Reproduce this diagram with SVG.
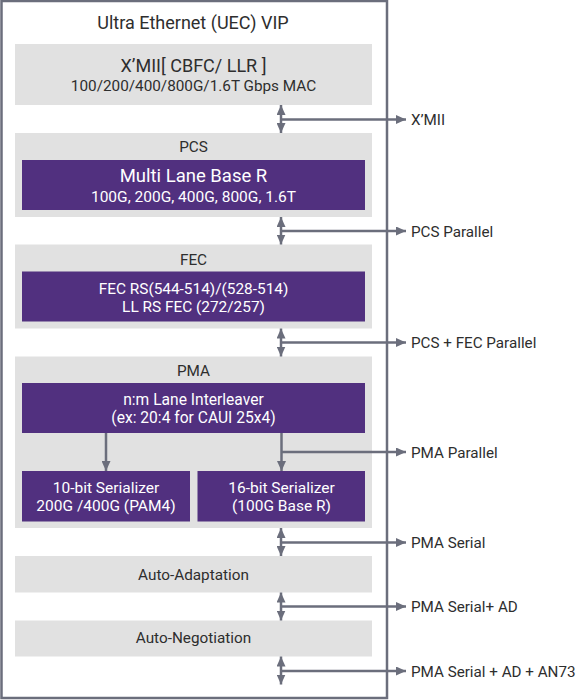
<svg xmlns="http://www.w3.org/2000/svg" width="578" height="700" viewBox="0 0 578 700">
<style>
  .frame{fill:#ffffff;stroke:#6b6e7c;stroke-width:2.5}
  .gray{fill:#e1e1e1}
  .purple{fill:#51307f}
  .t{font-family:Roboto,"Liberation Sans",sans-serif;fill:#2e2e2e;text-anchor:middle}
  .w{font-family:Roboto,"Liberation Sans",sans-serif;fill:#ffffff;text-anchor:middle}
  .lbl{font-family:Roboto,"Liberation Sans",sans-serif;fill:#2e2e2e;font-size:15.2px}
  .ln{stroke:#6b6e7c;stroke-width:2.5;fill:none}
</style>
<defs>
  <marker id="ah" viewBox="0 0 10 9" refX="10" refY="4.5" markerWidth="10" markerHeight="9" markerUnits="userSpaceOnUse" orient="auto-start-reverse">
    <path d="M0,0 L10,4.5 L0,9 z" fill="#6b6e7c"/>
  </marker>
</defs>
<rect width="578" height="700" fill="#ffffff"/>
<g id="frame">
  <rect class="frame" x="1.5" y="1" width="385.5" height="697"/>
  <text class="t" x="193" y="29" font-size="18">Ultra Ethernet (UEC) VIP</text>
</g>
<g id="xmii">
  <rect class="gray" x="15" y="44" width="357" height="61"/>
  <text class="t" x="193.5" y="72" font-size="18">X’MII[ CBFC/ LLR ]</text>
  <text class="t" x="193.5" y="91" font-size="15.3">100/200/400/800G/1.6T Gbps MAC</text>
</g>
<g id="pcs">
  <rect class="gray" x="15" y="133" width="357" height="84"/>
  <text class="t" x="193.5" y="152" font-size="15.3">PCS</text>
  <rect class="purple" x="22" y="160" width="343" height="50"/>
  <text class="w" x="193.5" y="182" font-size="18.5">Multi Lane Base R</text>
  <text class="w" x="193.5" y="201.5" font-size="15.5">100G, 200G, 400G, 800G, 1.6T</text>
</g>
<g id="fec">
  <rect class="gray" x="15" y="244.5" width="357" height="84"/>
  <text class="t" x="193.5" y="264.5" font-size="15.3">FEC</text>
  <rect class="purple" x="22" y="271.5" width="343" height="50"/>
  <text class="w" x="193.5" y="293.5" font-size="15.4">FEC RS(544-514)/(528-514)</text>
  <text class="w" x="193.5" y="311.5" font-size="15.4">LL RS FEC (272/257)</text>
</g>
<g id="pma">
  <rect class="gray" x="15" y="356.5" width="357" height="171.5"/>
  <text class="t" x="193.5" y="376" font-size="15.3">PMA</text>
</g>
<g id="interleaver">
  <rect class="purple" x="22" y="383" width="343" height="50"/>
  <text class="w" x="193.5" y="405" font-size="15.6">n:m Lane Interleaver</text>
  <text class="w" x="193.5" y="423" font-size="15.6">(ex: 20:4 for CAUI 25x4)</text>
</g>
<g id="ser10">
  <rect class="purple" x="22" y="471" width="168" height="50.5"/>
  <text class="w" x="106" y="493" font-size="15.5">10-bit Serializer</text>
  <text class="w" x="106" y="511" font-size="15.5">200G /400G (PAM4)</text>
</g>
<g id="ser16">
  <rect class="purple" x="197.5" y="471" width="167.5" height="50.5"/>
  <text class="w" x="281.5" y="493" font-size="15.5">16-bit Serializer</text>
  <text class="w" x="281.5" y="511" font-size="15.5">(100G Base R)</text>
</g>
<g id="autoadapt">
  <rect class="gray" x="15" y="556" width="357" height="36.5"/>
  <text class="t" x="193.5" y="579.5" font-size="15.3">Auto-Adaptation</text>
</g>
<g id="autoneg">
  <rect class="gray" x="15" y="620.5" width="357" height="36"/>
  <text class="t" x="193.5" y="643" font-size="15.3">Auto-Negotiation</text>
</g>
<g id="connectors">
  <line class="ln" x1="281" y1="105" x2="281" y2="133" marker-start="url(#ah)" marker-end="url(#ah)"/>
  <line class="ln" x1="281" y1="119.5" x2="406" y2="119.5" marker-end="url(#ah)"/>
  <line class="ln" x1="281" y1="217" x2="281" y2="244.5" marker-start="url(#ah)" marker-end="url(#ah)"/>
  <line class="ln" x1="281" y1="231" x2="406" y2="231" marker-end="url(#ah)"/>
  <line class="ln" x1="281" y1="328.5" x2="281" y2="356.5" marker-start="url(#ah)" marker-end="url(#ah)"/>
  <line class="ln" x1="281" y1="342.5" x2="406" y2="342.5" marker-end="url(#ah)"/>
  <line class="ln" x1="106" y1="433" x2="106" y2="471" marker-end="url(#ah)"/>
  <line class="ln" x1="281.5" y1="433" x2="281.5" y2="471" marker-end="url(#ah)"/>
  <line class="ln" x1="281.5" y1="452" x2="406" y2="452" marker-end="url(#ah)"/>
  <line class="ln" x1="281" y1="528" x2="281" y2="556" marker-start="url(#ah)" marker-end="url(#ah)"/>
  <line class="ln" x1="281" y1="542.5" x2="406" y2="542.5" marker-end="url(#ah)"/>
  <line class="ln" x1="281" y1="592.5" x2="281" y2="620.5" marker-start="url(#ah)" marker-end="url(#ah)"/>
  <line class="ln" x1="281" y1="606.5" x2="406" y2="606.5" marker-end="url(#ah)"/>
  <line class="ln" x1="281" y1="656.5" x2="281" y2="684.5" marker-start="url(#ah)" marker-end="url(#ah)"/>
  <line class="ln" x1="281" y1="671" x2="406" y2="671" marker-end="url(#ah)"/>
</g>
<g id="labels">
  <text class="lbl" x="411" y="125">X’MII</text>
  <text class="lbl" x="411" y="236.5">PCS Parallel</text>
  <text class="lbl" x="411" y="348">PCS + FEC Parallel</text>
  <text class="lbl" x="411" y="457.5">PMA Parallel</text>
  <text class="lbl" x="411" y="548">PMA Serial</text>
  <text class="lbl" x="411" y="612">PMA Serial+ AD</text>
  <text class="lbl" x="411" y="676.5">PMA Serial + AD + AN73</text>
</g>
</svg>
